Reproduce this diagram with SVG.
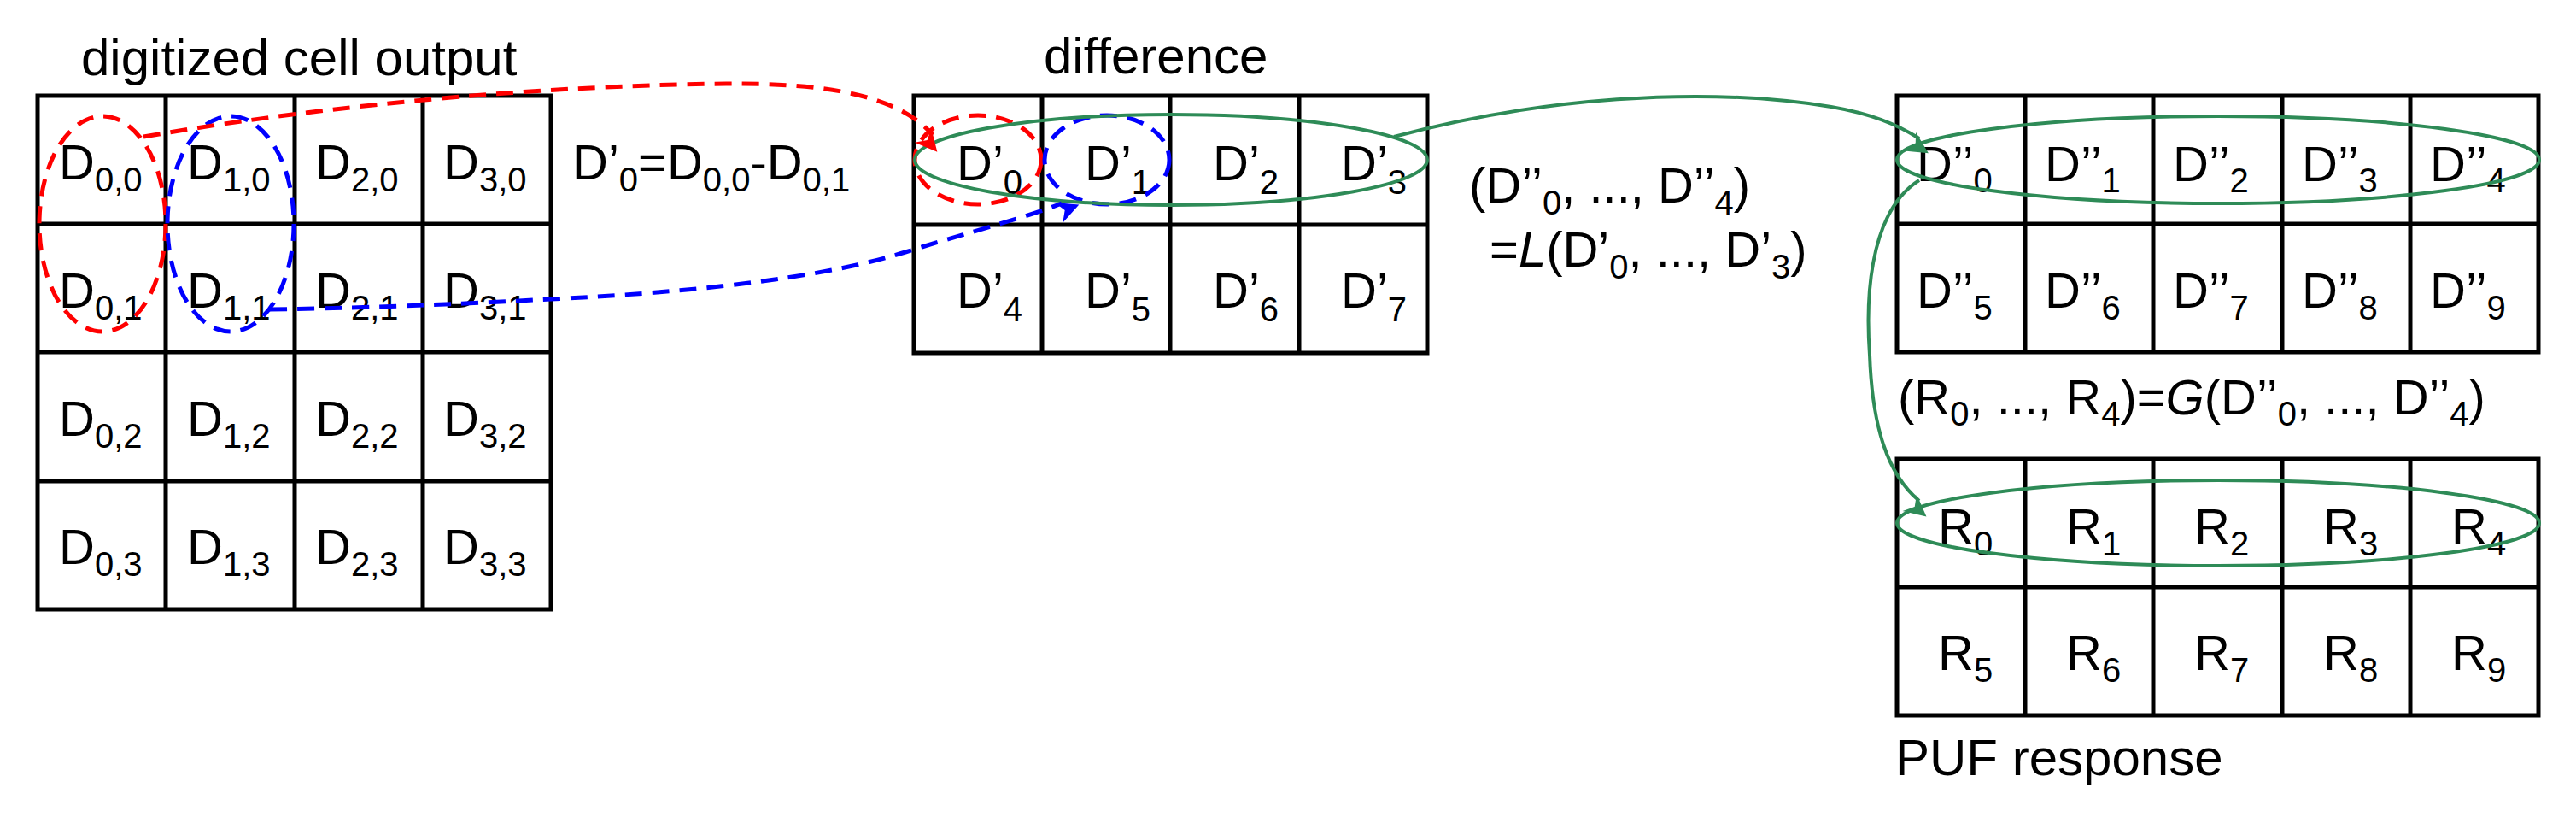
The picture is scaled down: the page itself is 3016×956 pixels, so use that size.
<svg xmlns="http://www.w3.org/2000/svg" width="3016" height="956" viewBox="0 0 3016 956">
<style>
text{font-family:"Liberation Sans",Arial,sans-serif;font-size:58px;fill:#000}
.s{font-size:40px}
.g{fill:none;stroke:#000;stroke-width:5}
.t{font-size:60px}
</style>
<defs>
<marker id="ar" viewBox="0 0 10 10" refX="9" refY="5" markerWidth="8" markerHeight="8" markerUnits="userSpaceOnUse" orient="auto" style="overflow:visible"><path d="M0,0 L10,5 L0,10 L3,5 Z" fill="red" transform="scale(3.2)"/></marker>
<marker id="ab" viewBox="0 0 10 10" refX="9" refY="5" markerWidth="8" markerHeight="8" markerUnits="userSpaceOnUse" orient="auto" style="overflow:visible"><path d="M0,0 L10,5 L0,10 L3,5 Z" fill="blue" transform="scale(3.2)"/></marker>
<marker id="ag" viewBox="0 0 10 10" refX="9" refY="5" markerWidth="8" markerHeight="8" markerUnits="userSpaceOnUse" orient="auto" style="overflow:visible"><path d="M0,0 L10,5 L0,10 L3,5 Z" fill="#2e8b57" transform="scale(3.2)"/></marker>
</defs>
<rect width="3016" height="956" fill="#fff"/>

<g id="cells">
<text class="t" x="95" y="88">digitized cell output</text>
<path class="g" d="M44,112H645V713H44Z M194,112V713 M345,112V713 M495,112V713 M44,262H645 M44,412H645 M44,563H645"/>
<text x="69" y="210">D<tspan class="s" dy="14">0,0</tspan></text>
<text x="219" y="210">D<tspan class="s" dy="14">1,0</tspan></text>
<text x="369" y="210">D<tspan class="s" dy="14">2,0</tspan></text>
<text x="519" y="210">D<tspan class="s" dy="14">3,0</tspan></text>
<text x="69" y="360">D<tspan class="s" dy="14">0,1</tspan></text>
<text x="219" y="360">D<tspan class="s" dy="14">1,1</tspan></text>
<text x="369" y="360">D<tspan class="s" dy="14">2,1</tspan></text>
<text x="519" y="360">D<tspan class="s" dy="14">3,1</tspan></text>
<text x="69" y="510">D<tspan class="s" dy="14">0,2</tspan></text>
<text x="219" y="510">D<tspan class="s" dy="14">1,2</tspan></text>
<text x="369" y="510">D<tspan class="s" dy="14">2,2</tspan></text>
<text x="519" y="510">D<tspan class="s" dy="14">3,2</tspan></text>
<text x="69" y="660">D<tspan class="s" dy="14">0,3</tspan></text>
<text x="219" y="660">D<tspan class="s" dy="14">1,3</tspan></text>
<text x="369" y="660">D<tspan class="s" dy="14">2,3</tspan></text>
<text x="519" y="660">D<tspan class="s" dy="14">3,3</tspan></text>
<ellipse cx="120" cy="262" rx="74" ry="126" fill="none" stroke="red" stroke-width="5" stroke-dasharray="20,12"/>
<ellipse cx="270" cy="262" rx="74" ry="126" fill="none" stroke="blue" stroke-width="5" stroke-dasharray="20,12"/>
</g>

<g id="formula1">
<text x="670" y="210">D’<tspan class="s" dy="14">0</tspan><tspan dy="-14">=D</tspan><tspan class="s" dy="14">0,0</tspan><tspan dy="-14">-D</tspan><tspan class="s" dy="14">0,1</tspan></text>
</g>

<g id="difference">
<text class="t" x="1222" y="86">difference</text>
<path class="g" d="M1070,112H1671V413H1070Z M1220,112V413 M1370,112V413 M1521,112V413 M1070,263H1671"/>
<text x="1120" y="211">D’<tspan class="s" dy="16">0</tspan></text>
<text x="1270" y="211">D’<tspan class="s" dy="16">1</tspan></text>
<text x="1420" y="211">D’<tspan class="s" dy="16">2</tspan></text>
<text x="1570" y="211">D’<tspan class="s" dy="16">3</tspan></text>
<text x="1120" y="360">D’<tspan class="s" dy="16">4</tspan></text>
<text x="1270" y="360">D’<tspan class="s" dy="16">5</tspan></text>
<text x="1420" y="360">D’<tspan class="s" dy="16">6</tspan></text>
<text x="1570" y="360">D’<tspan class="s" dy="16">7</tspan></text>
<ellipse cx="1145" cy="187" rx="74" ry="52" fill="none" stroke="red" stroke-width="5" stroke-dasharray="20,12"/>
<ellipse cx="1296" cy="187" rx="73" ry="52" fill="none" stroke="blue" stroke-width="5" stroke-dasharray="20,12"/>
<ellipse cx="1371" cy="187" rx="300" ry="53" fill="none" stroke="#2e8b57" stroke-width="4"/>
</g>

<g id="formula2">
<text x="1720" y="237">(D’’<tspan class="s" dy="14">0</tspan><tspan dy="-14">, ..., D’’</tspan><tspan class="s" dy="14">4</tspan><tspan dy="-14">)</tspan></text>
<text x="1744" y="312">=<tspan font-style="italic">L</tspan>(D’<tspan class="s" dy="14">0</tspan><tspan dy="-14">, ..., D’</tspan><tspan class="s" dy="14">3</tspan><tspan dy="-14">)</tspan></text>
</g>

<g id="dgrid">
<path class="g" d="M2221,112H2972V412H2221Z M2371,112V412 M2521,112V412 M2672,112V412 M2822,112V412 M2221,262H2972"/>
<text x="2244" y="212">D’’<tspan class="s" dy="13">0</tspan></text>
<text x="2394" y="212">D’’<tspan class="s" dy="13">1</tspan></text>
<text x="2544" y="212">D’’<tspan class="s" dy="13">2</tspan></text>
<text x="2695" y="212">D’’<tspan class="s" dy="13">3</tspan></text>
<text x="2845" y="212">D’’<tspan class="s" dy="13">4</tspan></text>
<text x="2244" y="360">D’’<tspan class="s" dy="14">5</tspan></text>
<text x="2394" y="360">D’’<tspan class="s" dy="14">6</tspan></text>
<text x="2544" y="360">D’’<tspan class="s" dy="14">7</tspan></text>
<text x="2695" y="360">D’’<tspan class="s" dy="14">8</tspan></text>
<text x="2845" y="360">D’’<tspan class="s" dy="14">9</tspan></text>
<ellipse cx="2597" cy="187" rx="376" ry="51" fill="none" stroke="#2e8b57" stroke-width="4"/>
</g>

<g id="formula3">
<text x="2222" y="485">(R<tspan class="s" dy="13">0</tspan><tspan dy="-13">, ..., R</tspan><tspan class="s" dy="13">4</tspan><tspan dy="-13">)=</tspan><tspan font-style="italic">G</tspan>(D’’<tspan class="s" dy="13">0</tspan><tspan dy="-13">, ..., D’’</tspan><tspan class="s" dy="13">4</tspan><tspan dy="-13">)</tspan></text>
</g>

<g id="response">
<path class="g" d="M2221,537H2972V837H2221Z M2371,537V837 M2521,537V837 M2672,537V837 M2822,537V837 M2221,687H2972"/>
<text x="2269" y="636">R<tspan class="s" dy="14">0</tspan></text>
<text x="2419" y="636">R<tspan class="s" dy="14">1</tspan></text>
<text x="2569" y="636">R<tspan class="s" dy="14">2</tspan></text>
<text x="2720" y="636">R<tspan class="s" dy="14">3</tspan></text>
<text x="2870" y="636">R<tspan class="s" dy="14">4</tspan></text>
<text x="2269" y="784">R<tspan class="s" dy="14">5</tspan></text>
<text x="2419" y="784">R<tspan class="s" dy="14">6</tspan></text>
<text x="2569" y="784">R<tspan class="s" dy="14">7</tspan></text>
<text x="2720" y="784">R<tspan class="s" dy="14">8</tspan></text>
<text x="2870" y="784">R<tspan class="s" dy="14">9</tspan></text>
<ellipse cx="2597" cy="612" rx="376" ry="50" fill="none" stroke="#2e8b57" stroke-width="4"/>
<text class="t" x="2219" y="907">PUF response</text>
</g>

<g id="connectors" fill="none">
<path d="M168,160 C400,120 650,100 850,98 C980,97 1055,115 1092,158" stroke="red" stroke-width="5" stroke-dasharray="20,12" marker-end="url(#ar)"/>
<path d="M316,362 C450,360 550,355 645,350 C850,340 980,320 1060,295 C1140,270 1200,255 1243,238" stroke="blue" stroke-width="5" stroke-dasharray="20,12" marker-end="url(#ab)"/>
<path d="M1632,160 C1800,115 1990,100 2144,125 C2190,133 2220,145 2247,162" stroke="#2e8b57" stroke-width="4" marker-end="url(#ag)"/>
<path d="M2247,211 C2185,250 2185,360 2189,415 C2192,500 2210,555 2247,586" stroke="#2e8b57" stroke-width="4" marker-end="url(#ag)"/>
</g>
</svg>
